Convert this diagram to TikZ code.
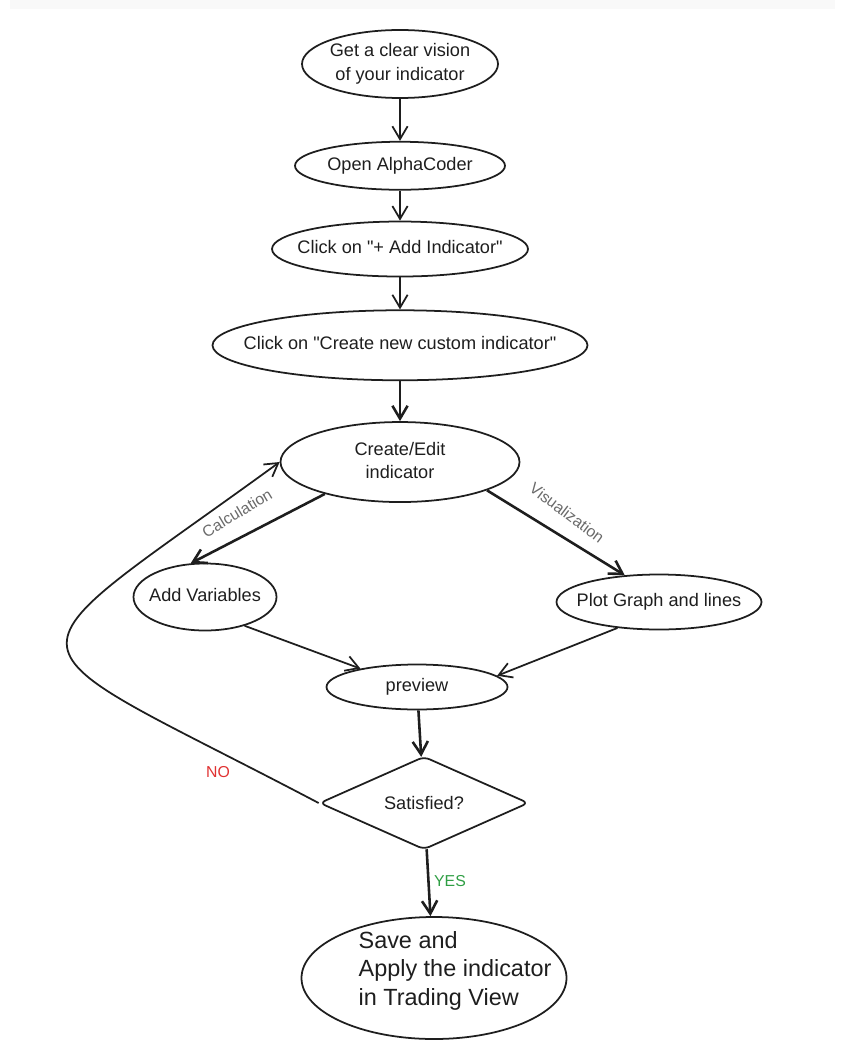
\documentclass[tikz,border=0pt]{standalone}
\usepackage{fontspec}
\setmainfont{Liberation Sans}
\usepackage{xcolor}
\usetikzlibrary{arrows.meta,positioning,shapes.geometric}

\definecolor{ink}{HTML}{1E1E1E}
\definecolor{labelgray}{HTML}{6A6A6A}
\definecolor{nored}{HTML}{E03131}
\definecolor{yesgreen}{HTML}{2F9E44}

% text of zero width, so the ellipse keeps its minimum size
\newcommand{\flattext}[2][c]{\makebox[0pt]{\begin{tabular}{@{}#1@{}}#2\end{tabular}}}

\begin{document}
\begin{tikzpicture}[
  x=0.03cm, y=-0.03cm,
  stepnode/.style={
    draw=ink,
    ellipse,
    line width=1.5pt,
    inner sep=0pt,
    text=ink,
    font=\fontsize{15.5}{20}\selectfont
  },
  dims/.style 2 args={minimum width=#1*0.03cm, minimum height=#2*0.03cm},
  decision/.style={
    draw=ink,
    diamond,
    rounded corners=5pt,
    line width=1.5pt,
    inner sep=0pt,
    text=ink,
    font=\fontsize{15.5}{20}\selectfont
  },
  flow/.style={-{Straight Barb[length=11pt,width=13pt]}, line width=1.5pt, draw=ink},
  boldflow/.style={flow, line width=2.2pt},
  edgelabel/.style={text=labelgray, inner sep=1pt, font=\fontsize{13.5}{16}\selectfont}
]
\useasboundingbox (0,0) rectangle (845,1045);
\fill[black!2.5] (10,0) rectangle (835,9);

\node[stepnode, dims={196}{68}] (vision) at (400,64) {\flattext{Get a clear vision\\of your indicator}};
\node[stepnode, dims={210}{48}, below=1.26cm of vision] (open) {\flattext{Open AlphaCoder}};
\node[stepnode, dims={256}{55}, below=0.9cm of open] (addind) {\flattext{Click on \textquotedbl+ Add Indicator\textquotedbl}};
\node[stepnode, dims={375}{70}, below=0.96cm of addind] (custom) {\flattext{Click on \textquotedbl Create new custom indicator\textquotedbl}};
\node[stepnode, dims={239}{80}, below=1.2cm of custom] (create) {\flattext{Create/Edit\\indicator}};

\node[stepnode, dims={143}{67}] (vars) at (205,597) {\flattext{Add Variables}};
\node[stepnode, dims={205}{55}] (plot) at (659,602) {\flattext{Plot Graph and lines}};
\node[stepnode, dims={181}{45}] (preview) at (417,687) {\flattext{preview}};
\node[decision, dims={209}{83}] (sat) at (424,803) {Satisfied?};
\node[stepnode, dims={265}{122}, font=\fontsize{20}{24}\selectfont] (save) at (434,978)
  {\makebox[0pt]{\hspace{1.26cm}\raisebox{0.2cm}[\height][\depth]{\begin{tabular}{@{}l@{}}Save and\\Apply the indicator\\in Trading View\end{tabular}}}};

\draw[flow] (vision) -- (open);
\draw[flow] (open) -- (addind);
\draw[flow] (addind) -- (custom);
\draw[boldflow] (custom) -- (create);
\draw[boldflow] (create.203) -- (vars.113);
\draw[boldflow] (create.342) -- (plot.142);
\draw[flow] (vars.324) -- (preview.162);
\draw[flow] (plot.212) -- (preview.8);
\draw[boldflow] (preview) -- (sat);
\draw[boldflow] (sat) -- (save);
\draw[flow] (sat.west) .. controls (-10,630) and (-10,673) .. (create.west);

\node[edgelabel, rotate=31] (calc) at (237,513) {Calculation};
\node[edgelabel, rotate=-37] (visual) at (567,513) {Visualization};
\node[edgelabel, text=nored] (no) at (218,772) {NO};
\node[edgelabel, text=yesgreen] (yes) at (450,881) {YES};
\end{tikzpicture}
\end{document}
